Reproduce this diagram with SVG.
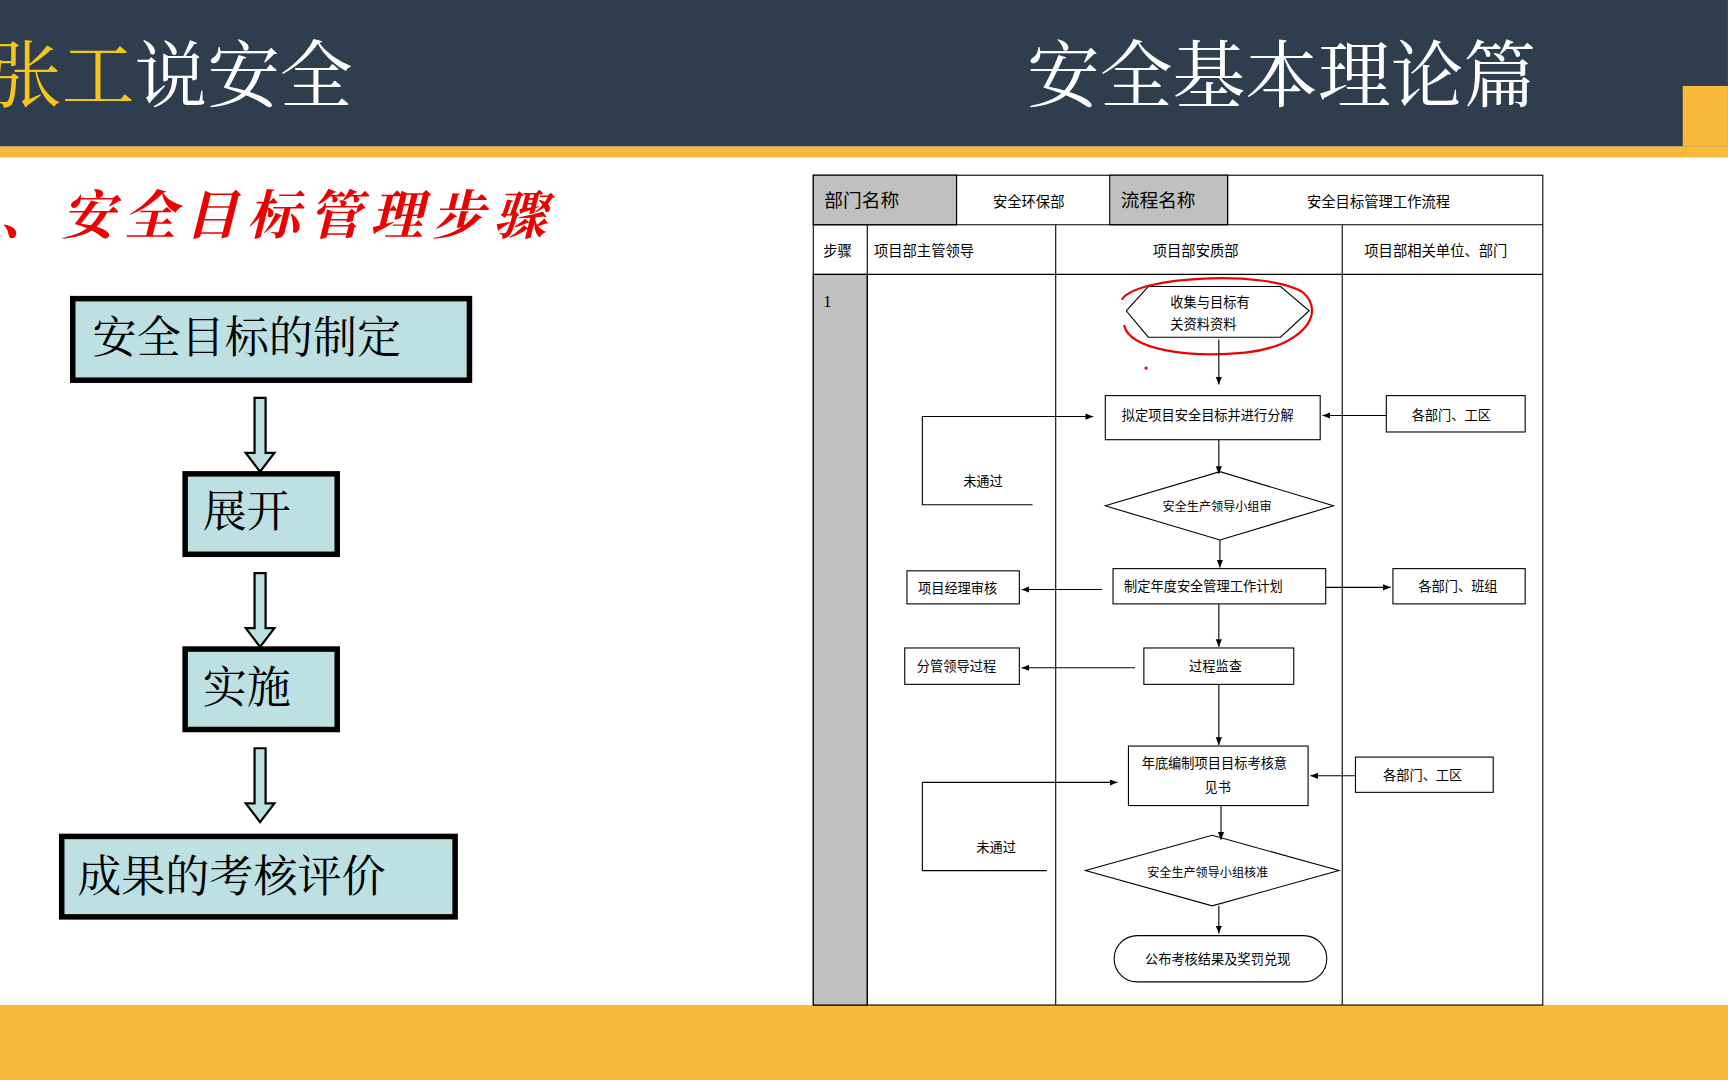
<svg xmlns="http://www.w3.org/2000/svg" width="1728" height="1080" viewBox="0 0 1728 1080">
<defs>
<style>
.t{font-family:"Noto Sans CJK SC","Noto Sans",sans-serif;fill:#000}
.s{font-size:13px}
.b{fill:#fff;stroke:#000;stroke-width:1}
.l{fill:none;stroke:#000;stroke-width:1}
.bx{fill:#bde0e3;stroke:#000;stroke-width:5}
.bt{font-family:"Noto Serif CJK SC","Noto Sans CJK SC",serif;font-size:40px;fill:#000}
</style>
<marker id="a" viewBox="0 0 10 10" refX="10" refY="5" markerWidth="7" markerHeight="7" orient="auto"><path d="M0,1L10,5L0,9z" fill="#000"/></marker>
</defs>
<g transform="scale(1.102)">
<rect width="1568" height="980" fill="#fff"/>
<g id="header">
<rect width="1568" height="133" fill="#2f3e4e"/>
<rect y="133" width="1568" height="10" fill="#f9b93a"/>
<rect x="1527" y="78" width="41" height="55" fill="#f9b93a"/>
<text x="-10" y="92" font-family="Noto Serif CJK SC,serif" font-size="66" fill="#f5c518">张工<tspan fill="#fff">说安全</tspan></text>
<text x="932" y="92" font-family="Noto Serif CJK SC,serif" font-size="66" fill="#fff">安全基本理论篇</text>
</g>
<rect id="footer" y="912" width="1568" height="68" fill="#f9b93a"/>
<text x="0" y="212" font-family="Noto Serif CJK SC,serif" font-size="48" font-weight="bold" fill="#e00" font-style="italic" letter-spacing="8">、安全目标管理步骤</text>
<g id="steps">
<rect class="bx" x="66" y="271" width="360" height="74"/><text class="bt" x="84" y="320">安全目标的制定</text>
<rect class="bx" x="168" y="430" width="138" height="73"/><text class="bt" x="184" y="478">展开</text>
<rect class="bx" x="168" y="589" width="138" height="73"/><text class="bt" x="184" y="638">实施</text>
<rect class="bx" x="56" y="759" width="357" height="73"/><text class="bt" x="70" y="809">成果的考核评价</text>
<g fill="#bde0e3" stroke="#000" stroke-width="2">
<path d="M231,361h10v50h8l-13,17l-13,-17h8z"/>
<path d="M231,520h10v50h8l-13,17l-13,-17h8z"/>
<path d="M231,679h10v50h8l-13,17l-13,-17h8z"/>
</g>
</g>
<g id="table">
<rect x="738" y="159" width="662" height="753" class="b"/>
<rect x="738" y="159" width="130" height="45" fill="#c0c0c0" stroke="#000"/>
<rect x="1007" y="159" width="107" height="45" fill="#c0c0c0" stroke="#000"/>
<rect x="738" y="249" width="49" height="663" fill="#c0c0c0" stroke="#000"/>
<path class="l" d="M738,204H1400M738,249H1400M787,204V912M958,204V912M1218,204V912M868,159V204M1114,159V204"/>
<text class="t" x="748" y="188" font-size="17">部门名称</text>
<text class="t s" x="901" y="188">安全环保部</text>
<text class="t" x="1017" y="188" font-size="17">流程名称</text>
<text class="t s" x="1186" y="188">安全目标管理工作流程</text>
<text class="t s" x="747" y="232">步骤</text>
<text class="t s" x="793" y="232">项目部主管领导</text>
<text class="t s" x="1046" y="232">项目部安质部</text>
<text class="t s" x="1238" y="232">项目部相关单位、部门</text>
<text x="747" y="279" font-family="Liberation Serif,serif" font-size="15">1</text>
</g>
<g id="nodes">
<path class="b" d="M1022,282L1042,260H1162L1188,282L1162,306H1042z"/>
<path d="M1018,272C1030,250,1150,245,1182,265C1205,285,1180,315,1130,320C1080,325,1025,318,1020,295" fill="none" stroke="#e00" stroke-width="2"/>
<text class="t" x="1062" y="279" font-size="12">收集与目标有</text><text class="t" x="1062" y="299" font-size="12">关资料资料</text>
<rect class="b" x="1003" y="359" width="195" height="40"/><text class="t" x="1018" y="381" font-size="12">拟定项目安全目标并进行分解</text>
<rect class="b" x="1258" y="359" width="126" height="33"/><text class="t" x="1281" y="381" font-size="12">各部门、工区</text>
<path class="b" d="M1003,459L1107,428L1210,459L1107,490z"/><text class="t" x="1055" y="464" font-size="11">安全生产领导小组审</text>
<rect class="b" x="1010" y="516" width="193" height="32"/><text class="t" x="1020" y="536" font-size="12">制定年度安全管理工作计划</text>
<rect class="b" x="823" y="518" width="102" height="30"/><text class="t" x="833" y="538" font-size="12">项目经理审核</text>
<rect class="b" x="1264" y="516" width="120" height="32"/><text class="t" x="1287" y="536" font-size="12">各部门、班组</text>
<rect class="b" x="1038" y="588" width="136" height="33"/><text class="t" x="1079" y="609" font-size="12">过程监查</text>
<rect class="b" x="821" y="588" width="104" height="33"/><text class="t" x="832" y="609" font-size="12">分管领导过程</text>
<rect class="b" x="1024" y="677" width="163" height="54"/><text class="t" x="1036" y="697" font-size="12">年底编制项目目标考核意</text><text class="t" x="1093" y="719" font-size="12">见书</text>
<rect class="b" x="1230" y="687" width="125" height="32"/><text class="t" x="1255" y="708" font-size="12">各部门、工区</text>
<path class="b" d="M985,790L1100,758L1215,790L1100,822z"/><text class="t" x="1041" y="796" font-size="11">安全生产领导小组核准</text>
<rect class="b" x="1011" y="849" width="193" height="42" rx="21"/><text class="t" x="1039" y="875" font-size="12">公布考核结果及奖罚兑现</text>
<text class="t" x="874" y="441" font-size="12">未通过</text>
<text class="t" x="886" y="773" font-size="12">未通过</text>
<circle cx="1040" cy="334" r="1.5" fill="#e00"/>
</g>
<g id="connectors" class="l" marker-end="url(#a)">
<path d="M1106,308V349"/>
<path d="M1258,377H1200"/>
<path d="M1106,399V430"/>
<path d="M1107,490V515"/>
<path d="M937,458H837V378H992"/>
<path d="M1000,535H927"/>
<path d="M1203,533H1262"/>
<path d="M1106,548V587"/>
<path d="M1030,606H927"/>
<path d="M1106,621V676"/>
<path d="M1230,704H1189"/>
<path d="M1108,731V762"/>
<path d="M950,790H837V710H1014"/>
<path d="M1106,822V847"/>
</g>
</g>
</svg>
